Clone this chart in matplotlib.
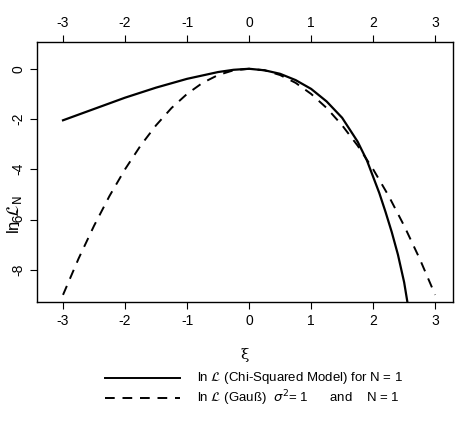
import matplotlib
matplotlib.use("Agg")
import matplotlib.pyplot as plt
plt.rcParams['font.family'] = ['Liberation Sans', 'DejaVu Sans']
plt.rcParams['axes.unicode_minus'] = False

xi_chi = [-3.0, -2.5, -2.0, -1.5, -1.0, -0.5, -0.25, 0.0, 0.25, 0.5, 0.75, 1.0, 1.25, 1.5, 1.75, 1.9, 2.0, 2.1, 2.2, 2.3, 2.4, 2.5, 2.56]
ln_chi = [-2.05, -1.6, -1.15, -0.75, -0.4, -0.13, -0.04, 0.0, -0.06, -0.2, -0.45, -0.8, -1.3, -1.95, -2.9, -3.65, -4.3, -4.95, -5.7, -6.5, -7.4, -8.5, -9.4]
xi_g = [-3.0, -2.75, -2.5, -2.25, -2.0, -1.75, -1.5, -1.25, -1.0, -0.75, -0.5, -0.25, 0.0, 0.25, 0.5, 0.75, 1.0, 1.25, 1.5, 1.75, 2.0, 2.25, 2.5, 2.75, 3.0]
ln_g = [-9.0, -7.56, -6.25, -5.06, -4.0, -3.06, -2.25, -1.56, -1.0, -0.56, -0.25, -0.06, 0.0, -0.06, -0.25, -0.56, -1.0, -1.56, -2.25, -3.06, -4.0, -5.06, -6.25, -7.56, -9.0]
xticks = [-3, -2, -1, 0, 1, 2, 3]
yticks = [0, -2, -4, -6, -8]

fig = plt.figure(figsize=(4.74, 4.32), dpi=100)
ax = fig.add_axes([0.078, 0.30, 0.878, 0.603])
ax.plot(xi_chi, ln_chi, color="black", lw=1.6)
ax.plot(xi_g, ln_g, color="black", lw=1.4, dashes=(5, 4))
ax.set_xlim(-3.42, 3.29)
ax.set_ylim(-9.3, 1.07)
ax.set_xticks(xticks)
ax.set_yticks(yticks)
ax.set_yticklabels([str(t) for t in yticks], rotation=90, va="center")
ax.tick_params(labelsize=10, length=5, top=True, labeltop=True)
for s in ax.spines.values():
    s.set_linewidth(1.0)
ax.set_xlabel("ξ", fontsize=11, family="DejaVu Serif", labelpad=14)
fig.text(14/474, 1-215/432, r"ln $\mathcal{L}_{\rm N}$", fontsize=12, rotation=90, ha="center", va="center")

fig.lines.append(plt.Line2D([105/474, 180/474], [1-378/432]*2, color="black", lw=1.4, transform=fig.transFigure))
fig.lines.append(plt.Line2D([105/474, 180/474], [1-398/432]*2, color="black", lw=1.4, dashes=(5, 4), transform=fig.transFigure))
fig.text(197/474, 1-378/432, r"ln $\mathcal{L}$ (Chi-Squared Model) for N = 1", fontsize=9.5, va="center")
fig.text(197/474, 1-398/432, r"ln $\mathcal{L}$ (Gauß)  $\sigma^2$= 1      and    N = 1", fontsize=9.5, va="center")
fig.savefig("out.png", dpi=100)
